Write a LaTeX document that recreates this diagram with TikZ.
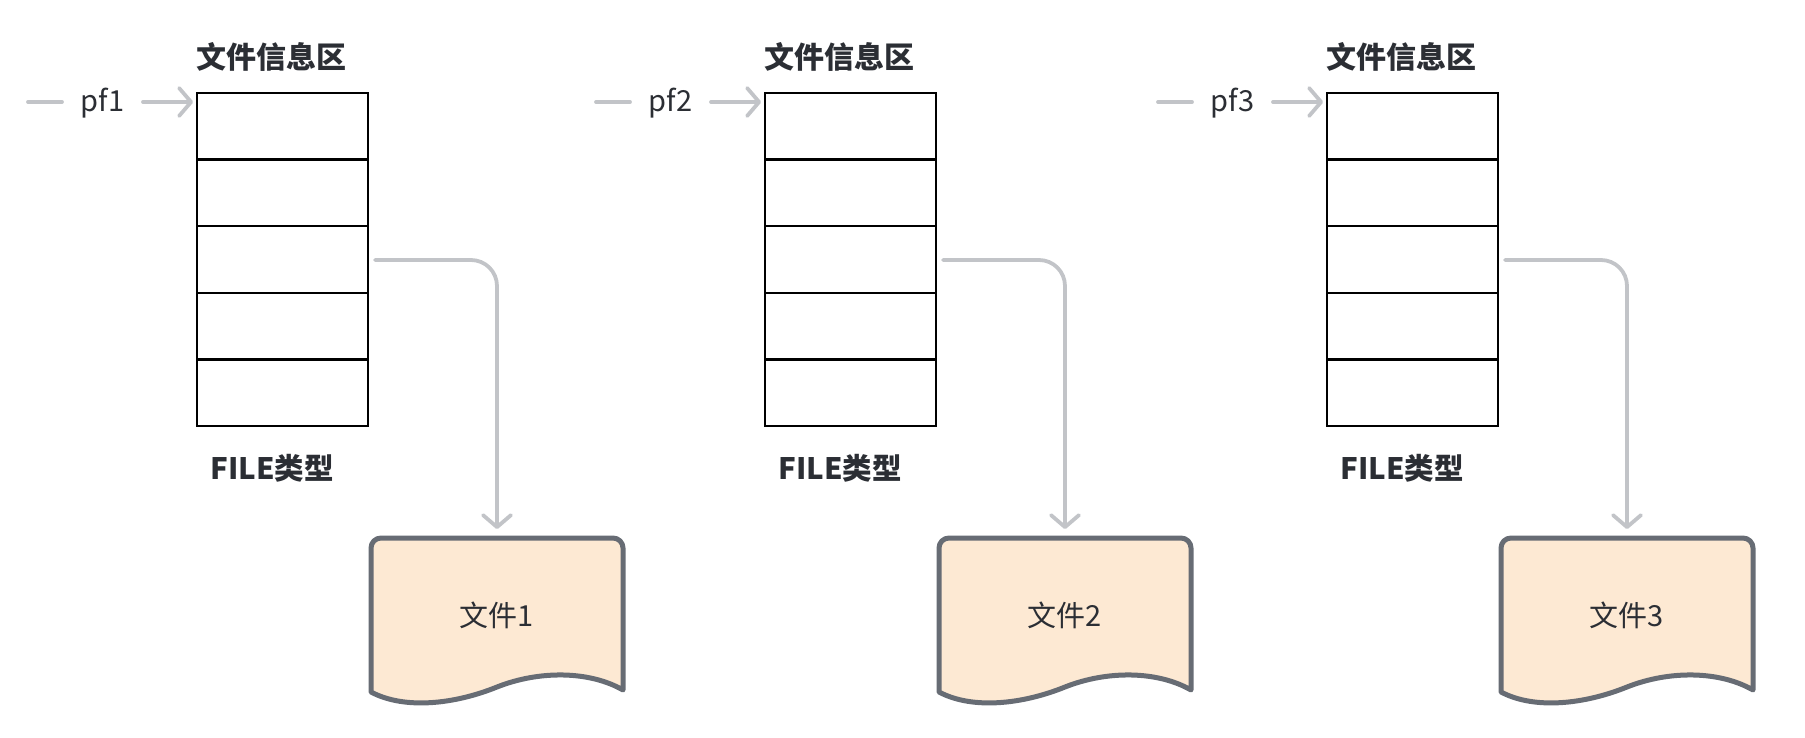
\documentclass[tikz,border=0pt]{standalone}
\usepackage{fontspec}
\setmainfont{Noto Sans CJK SC}
\usetikzlibrary{arrows.meta,positioning}
\definecolor{conn}{HTML}{C2C4C8}
\definecolor{txt}{HTML}{2B2E34}
\definecolor{docfill}{HTML}{FDE9D3}
\definecolor{docline}{HTML}{676C74}
\tikzset{
  cell/.style={draw=black, line width=2.6pt, minimum width=171pt, minimum height=66.6pt, inner sep=0pt, anchor=north west, outer sep=0pt},
  conline/.style={draw=conn, line width=3.8pt, line cap=round},
  conarrow/.style={conline, -{Straight Barb[length=12pt,width=28pt,line cap=round,line join=round]}},
  titletxt/.style={font=\bfseries\fontsize{30}{32}\selectfont, text=txt, inner sep=0pt},
  typetxt/.style={font=\bfseries\fontsize{29.5}{31}\selectfont, text=txt, inner sep=0pt},
  pftxt/.style={font=\fontsize{29}{31}\selectfont, text=txt, inner sep=0pt},
  doctxt/.style={font=\fontsize{29}{31}\selectfont, text=txt, inner sep=0pt},
  docshape/.style={draw=docline, fill=docfill, line width=5pt, line join=round},
}
\begin{document}
\begin{tikzpicture}[x=1pt,y=-1pt]
\useasboundingbox (0,0) rectangle (1805,738);
\foreach \g/\dx in {1/0, 2/568, 3/1130}{
  \begin{scope}[xshift=\dx pt]
    % table rows
    \node[cell] (r1-\g) at (197,93) {};
    \node[cell] (r2-\g) at (197,159.6) {};
    \node[cell] (r3-\g) at (197,226.2) {};
    \node[cell] (r4-\g) at (197,292.8) {};
    \node[cell] (r5-\g) at (197,359.4) {};
    % labels
    \node[titletxt, anchor=west] (title-\g) at (196,57) {文件信息区};
    \node[typetxt] (type-\g) at (272,468) {FILE类型};
    % pointer
    \coordinate (ps-\g) at (28,102);
    \coordinate (pe-\g) at (62,102);
    \node[pftxt] (pf-\g) at (102.5,103) {pf\g};
    \coordinate (pa-\g) at (143,102);
    \coordinate (pt-\g) at (193,102);
    \draw[conline] (ps-\g) -- (pe-\g);
    \draw[conarrow] (pa-\g) -- (pt-\g);
    % document shape
    \path[docshape] (371,548) arc[start angle=180, end angle=270, radius=10] -- (613,538)
      arc[start angle=270, end angle=360, radius=10] -- (623,690)
      .. controls (590,671) and (540,670) .. (497,687)
      .. controls (455,704) and (405,710) .. (371,692) -- cycle;
    \node[doctxt] (doc-\g) at (497,615) {文件\g};
    \coordinate (docTop-\g) at (497,538);
    \coordinate (cs-\g) at (375,260);
    \draw[conarrow, rounded corners=26pt, shorten >=9pt] (cs-\g) -| (docTop-\g);
  \end{scope}
}
\end{tikzpicture}
\end{document}
